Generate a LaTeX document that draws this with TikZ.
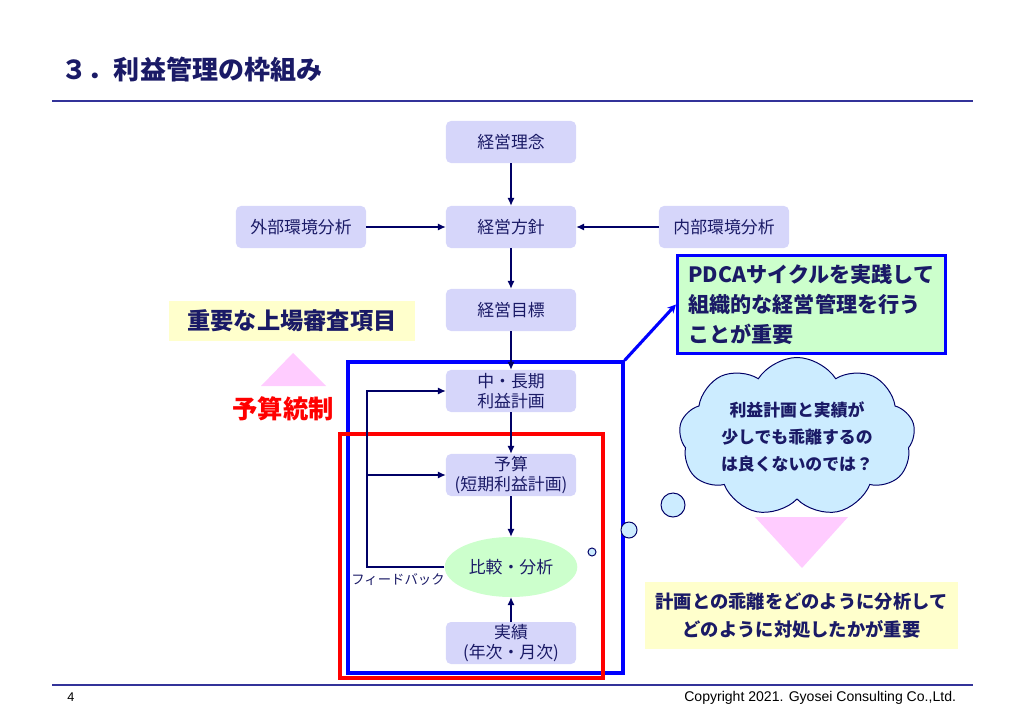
\documentclass[tikz,border=0pt]{standalone}
\usepackage{fontspec}
\setmainfont{Noto Sans CJK JP}
\newfontfamily\latinfont{Liberation Sans}
\usepackage{tikz}
\definecolor{navy}{HTML}{000066}
\definecolor{inknavy}{HTML}{1A1A66}
\definecolor{rulenavy}{HTML}{333399}
\definecolor{lavender}{HTML}{D6D6FA}
\definecolor{mint}{HTML}{CCFFCC}
\definecolor{skyblue}{HTML}{CCECFF}
\definecolor{cream}{HTML}{FFFFCC}
\definecolor{pinkish}{HTML}{FFCCFF}
\usetikzlibrary{positioning, arrows, arrows.meta, shapes.geometric, shapes.symbols}
\tikzstyle{arrow} = [line width=0.8pt,-{Latex[length=5.5pt,width=5pt]},draw=navy]

\begin{document}
\begin{tikzpicture}[x=0.025cm,y=-0.025cm]
    \tikzstyle{every node}=[font=\fontsize{12}{14.5}\selectfont, text=inknavy]
    \tikzstyle{plan} = [rectangle, rounded corners=3.5pt, fill=lavender, minimum width=3.25cm, minimum height=1.05cm, align=center, inner sep=1pt]
    \tikzstyle{check} = [ellipse, fill=mint, minimum width=3.3cm, minimum height=1.5cm]
    \tikzstyle{note} = [rectangle, fill=cream, align=center, font=\bfseries\fontsize{13}{20}\selectfont]
    \tikzstyle{bubble} = [circle, draw=navy, fill=skyblue, line width=0.7pt, inner sep=0pt]
    \tikzstyle{frame} = [rectangle, fill=none, inner sep=0pt]

    \useasboundingbox (0,0) rectangle (1024,708);

    % title and rules
    \node[anchor=west, text=inknavy, font=\bfseries\fontsize{18.5}{22}\selectfont] (title) at (57,70) {３．利益管理の枠組み};
    \draw[rulenavy, line width=1.5pt] (52,101) -- (973,101);
    \draw[rulenavy, line width=1.5pt] (52,685) -- (973,685);
    \node[font=\latinfont\fontsize{9}{10}\selectfont, text=black] (pageno) at (71,697) {4};
    \node[anchor=east, font=\latinfont\fontsize{10}{11}\selectfont, text=black] (copyright) at (961,698) {Copyright 2021. Gyosei Consulting Co.,Ltd.};

    % frames
    \node[frame, draw=blue, line width=2.2pt, minimum width=6.875cm, minimum height=7.775cm] (pdcaframe) at (485.5,517.5) {};
    \node[frame, draw=red, line width=2.2pt, minimum width=6.575cm, minimum height=6.1cm] (budgetframe) at (471.5,556) {};

    % plan boxes
    \node[plan] (philosophy) at (511,142) {経営理念};
    \node[plan] (policy) at (511,227) {経営方針};
    \node[plan] (external) at (301,227) {外部環境分析};
    \node[plan] (internal) at (724,227) {内部環境分析};
    \node[plan] (target) at (511,310) {経営目標};
    \node[plan] (midplan) at (511,391) {中・長期\\利益計画};
    \node[plan] (budget) at (511,475) {予算\\(短期利益計画)};
    \node[check] (compare) at (511,567) {比較・分析};
    \node[plan] (actual) at (511,643) {実績\\(年次・月次)};

    \draw[arrow] (philosophy) -- (policy);
    \draw[arrow] (external) -- (policy);
    \draw[arrow] (internal) -- (policy);
    \draw[arrow] (policy) -- (target);
    \draw[arrow] (target) -- (midplan);
    \draw[arrow] (midplan) -- (budget);
    \draw[arrow] (budget) -- (compare);
    \draw[arrow] (actual) -- (compare);

    % feedback
    \coordinate (fbcorner) at (367,567);
    \draw[arrow] (compare.west) -- (fbcorner) |- (midplan.west);
    \draw[arrow] (fbcorner |- budget.west) -- (budget.west);
    \node[font=\fontsize{9.5}{10}\selectfont] (feedback) at (398,580) {フィードバック};

    % left side
    \node[note, font=\bfseries\fontsize{16.5}{20}\selectfont, minimum width=6.15cm, minimum height=0.98cm] (listing) at (292,321) {重要な上場審査項目};
    \fill[pinkish] (293,353) -- (326,386) -- (261,386) -- cycle;
    \node[font=\bfseries\fontsize{18}{22}\selectfont, text=red] (control) at (283,409) {予算統制};

    % right side
    \node[rectangle, draw=blue, line width=2.2pt, fill=mint, align=left, inner sep=3pt, minimum width=6.7cm, minimum height=2.45cm, font=\bfseries\fontsize{15}{21.5}\selectfont] (pdca) at (811.5,304.5) {PDCAサイクルを実践して\\組織的な経営管理を行う\\ことが重要};
    \draw[blue, line width=2.2pt, -{Stealth[length=6pt,width=6pt]}] (pdcaframe.north east) -- (pdca.west);

    \node[cloud, cloud puffs=9, cloud puff arc=115, aspect=1.7, draw=navy, fill=skyblue, line width=0.7pt, minimum width=5.9cm, minimum height=3.35cm, align=center, inner sep=0pt, font=\bfseries\fontsize{12}{19}\selectfont] (doubt) at (797,437) {利益計画と実績が\\少しでも乖離するの\\は良くないのでは？};
    \node[bubble, minimum size=0.6cm] (bubblebig) at (673,505) {};
    \node[bubble, minimum size=0.4cm] (bubblemid) at (629,530) {};
    \node[bubble, minimum size=0.2cm] (bubblesmall) at (592,552) {};

    \fill[pinkish] (755,517) -- (848,517) -- (802,568) -- cycle;
    \node[note, minimum width=7.825cm, minimum height=1.675cm] (answer) at (801.5,615.5) {計画との乖離をどのように分析して\\どのように対処したかが重要};
\end{tikzpicture}
\end{document}
